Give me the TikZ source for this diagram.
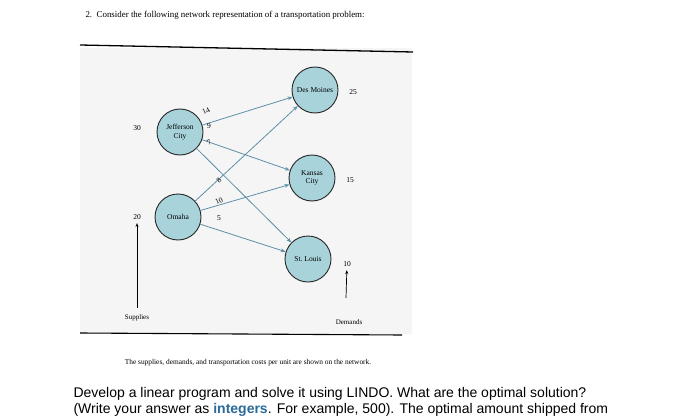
\documentclass[tikz,border=0pt]{standalone}
\usepackage{fontspec}
\setmainfont{Liberation Serif}
\newfontfamily\qsans{Liberation Sans}
\usetikzlibrary{arrows.meta}
\definecolor{nodefill}{HTML}{A9D3DB}
\definecolor{edgecol}{HTML}{5E8FA8}
\definecolor{blueword}{HTML}{2A6A9A}
\begin{document}
\begin{tikzpicture}[x=1pt,y=-1pt,
  city/.style={circle,draw=black!85,line width=0.9pt,fill=nodefill,minimum size=46pt,inner sep=0pt,align=center,font=\fontsize{7.5}{8.5}\selectfont},
  flow/.style={draw=edgecol,line width=0.8pt,-{Stealth[length=5pt]}},
  cost/.style={font=\fontsize{7.5}{8}\selectfont},
  num/.style={font=\fontsize{7.5}{8}\selectfont}]
\useasboundingbox (0,0) rectangle (700,417);
\fill[white] (0,0) rectangle (700,417);
\fill[black!4] (80,48) rectangle (412,334);
\node[anchor=west,font=\fontsize{8.9}{10}\selectfont] (title) at (82,15) {2.\ \ Consider the following network representation of a transportation problem:};
\coordinate (tl) at (80,45); \coordinate (tr) at (413,52);
\draw[line width=1.3pt] (tl) -- (tr);
\coordinate (bl) at (80,333); \coordinate (br) at (402,335);
\draw[line width=1.1pt] (bl) -- (br);
\node[city] (jc) at (180,132) {Jefferson\\City};
\node[city] (om) at (178,217) {Omaha};
\node[city] (dm) at (315,90) {Des Moines};
\node[city] (kc) at (312,178) {Kansas\\City};
\node[city] (sl) at (308,259) {St.\ Louis};
\draw[flow] (jc) -- (dm);
\draw[flow] (jc) -- (kc);
\draw[flow] (jc) -- (sl);
\draw[flow] (om) -- (dm);
\draw[flow] (om) -- (kc);
\draw[flow] (om) -- (sl);
\node[cost,rotate=25] (c1) at (206,111) {14};
\node[cost] (c2) at (209,126) {9};
\node[cost,rotate=30] (c3) at (209,142) {7};
\node[cost,rotate=45] (c4) at (219,180) {8};
\node[cost,rotate=25] (c5) at (219,201) {10};
\node[cost] (c6) at (219,218) {5};
\node[num] (s1) at (137,128) {30};
\node[num] (s2) at (137,217) {20};
\node[num] (d1) at (353,92) {25};
\node[num] (d2) at (350,180) {15};
\node[num] (d3) at (347,264) {10};
\coordinate (sa) at (137,308);
\draw[line width=0.7pt,-{Stealth[length=4pt]}] (sa) -- (s2);
\coordinate (da) at (346,298);
\draw[line width=0.7pt,-{Stealth[length=4pt]}] (da) -- (d3);
\node[font=\fontsize{7}{8}\selectfont] (sup) at (137,318) {Supplies};
\node[font=\fontsize{7}{8}\selectfont] (dem) at (349,322) {Demands};
\node[font=\fontsize{7.4}{8}\selectfont] (cap) at (248,363) {The supplies, demands, and transportation costs per unit are shown on the network.};
\node[anchor=west,font=\qsans\fontsize{14}{16}\selectfont] (q1) at (70,394) {Develop a linear program and solve it using LINDO. What are the optimal solution?};
\node[anchor=west,font=\qsans\fontsize{14}{16}\selectfont] (q2) at (70,410) {(Write your answer as \textcolor{blueword}{\bfseries integers}. For example, 500). The optimal amount shipped from};
\end{tikzpicture}
\end{document}
